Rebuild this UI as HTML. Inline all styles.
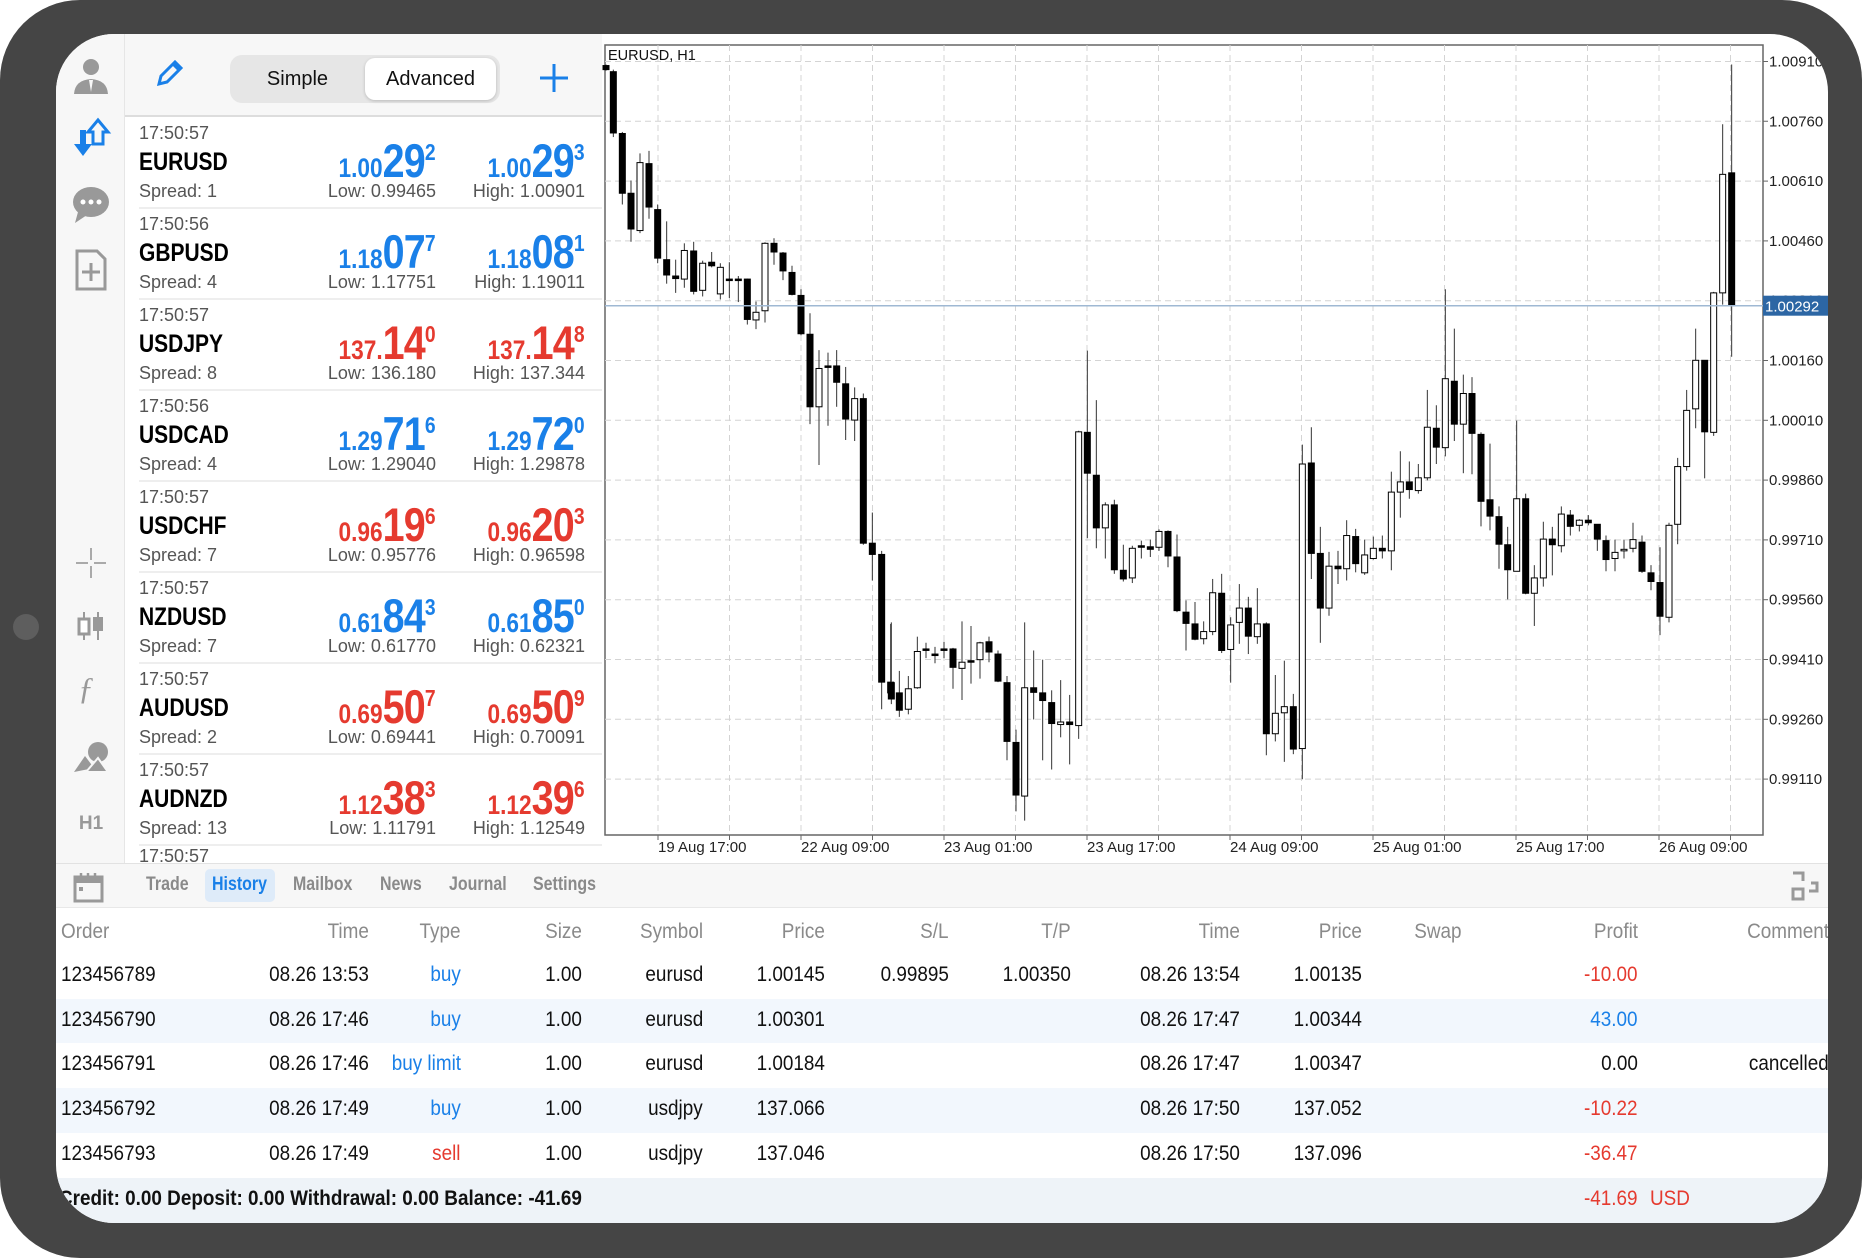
<!DOCTYPE html>
<html><head><meta charset="utf-8">
<style>
*{margin:0;padding:0;box-sizing:border-box}
body{width:1862px;height:1258px;background:#fff;position:relative;overflow:hidden;font-family:"Liberation Sans",sans-serif}
.frame{position:absolute;left:0;top:0;width:1862px;height:1258px;background:#454545;border-radius:80px}
.screen{position:absolute;left:56px;top:34px;width:1772px;height:1189px;background:#fff;border-radius:58px;overflow:hidden}
.a{position:absolute;white-space:nowrap}
.n{transform:scaleX(.84)}
.t{transform:scaleX(.9)}
.nl{transform-origin:left center}.nr{transform-origin:right center}
.blue{color:#1a80e8}.red{color:#e53a2f}
</style></head><body>
<div class="frame"></div>
<div class="a" style="left:13px;top:614px;width:26px;height:26px;border-radius:50%;background:#5e5e5e"></div>
<div class="screen" id="scr">
 <div class="a" style="left:0;top:0;width:69px;height:829px;background:#f7f7f7;border-right:1px solid #e6e6e6"></div>
 <div class="a" style="left:69px;top:0;width:477px;height:83px;background:#f7f7f7;border-bottom:2px solid #ddd"></div>
 <div class="a" style="left:174px;top:21px;width:270px;height:48px;background:#e6e6e6;border-radius:12px"></div>
 <div class="a" style="left:309px;top:24px;width:131px;height:42px;background:#fff;border-radius:10px;box-shadow:0 1px 3px rgba(0,0,0,.2)"></div>
 <div class="a" style="left:174px;top:34px;width:135px;text-align:center;font-size:20px;color:#111">Simple</div>
 <div class="a" style="left:309px;top:34px;width:131px;text-align:center;font-size:20px;color:#111">Advanced</div>
 <svg class="a" style="left:95px;top:22px" width="36" height="36" viewBox="0 0 36 36"><path d="M8 28 L10 20 L24 6 L30 12 L16 26 Z M22 8 L28 14" fill="none" stroke="#1a80e8" stroke-width="3"/></svg>
 <svg class="a" style="left:480px;top:26px" width="36" height="36"><path d="M18 4V32M4 18H32" stroke="#1a80e8" stroke-width="3"/></svg>
 <svg class="a" style="left:14px;top:20px" width="42" height="42"><circle cx="21" cy="13" r="8" fill="#999"/><path d="M4 40 Q5 26 21 25 Q37 26 38 40Z" fill="#999"/><path d="M19 26L21 38L23 26Z" fill="#f7f7f7"/></svg>
 <svg class="a" style="left:14px;top:82px" width="42" height="46"><path d="M10 14V28H4L13 40L22 28H16V14Z" fill="#1a80e8"/><path d="M28 4L38 16H33V28H23V16H18Z" fill="none" stroke="#1a80e8" stroke-width="3"/></svg>
 <svg class="a" style="left:14px;top:150px" width="42" height="42"><ellipse cx="21" cy="18" rx="18" ry="15" fill="#999"/><path d="M8 28L5 39L17 31Z" fill="#999"/><circle cx="13" cy="18" r="2.5" fill="#fff"/><circle cx="21" cy="18" r="2.5" fill="#fff"/><circle cx="29" cy="18" r="2.5" fill="#fff"/></svg>
 <svg class="a" style="left:18px;top:214px" width="34" height="44"><path d="M3 3H23L31 11V41H3Z" fill="none" stroke="#999" stroke-width="3"/><path d="M17 15V33M8 24H26" stroke="#999" stroke-width="3"/></svg>
 <svg class="a" style="left:18px;top:512px" width="34" height="34"><path d="M17 2V14M17 20V32M2 17H14M20 17H32" stroke="#aaa" stroke-width="2"/></svg>
 <svg class="a" style="left:18px;top:575px" width="34" height="34"><path d="M10 3V31M24 3V31" stroke="#999" stroke-width="2"/><rect x="5" y="10" width="10" height="15" fill="#fff" stroke="#999" stroke-width="3"/><rect x="19" y="8" width="10" height="14" fill="#999"/></svg>
 <div class="a" style="left:22px;top:636px;font-size:32px;font-style:italic;color:#999;font-family:'Liberation Serif',serif">ƒ</div>
 <svg class="a" style="left:16px;top:706px" width="38" height="34"><path d="M2 32L13 16L22 28Z" fill="#999"/><circle cx="26" cy="12" r="10" fill="#999"/><path d="M14 32L26 18L36 32Z" fill="#999" stroke="#f7f7f7" stroke-width="2"/></svg>
 <div class="a" style="left:10px;top:779px;width:50px;text-align:center;font-size:19px;font-weight:bold;color:#999">H1</div>
 <div id="watch"></div>
 <svg class="a" style="left:0;top:0" width="1772" height="829" id="chart"></svg>
 <div class="a" style="left:0;top:829px;width:1772px;height:45px;background:#f7f7f7;border-top:1px solid #e2e2e2;border-bottom:1px solid #e8e8e8"></div>
 <svg class="a" style="left:16px;top:837px" width="34" height="32"><rect x="3" y="6" width="27" height="24" fill="none" stroke="#999" stroke-width="3"/><rect x="3" y="6" width="27" height="6" fill="#999"/><path d="M9 2V8M16 2V8M23 2V8" stroke="#999" stroke-width="2.5"/><rect x="7" y="16" width="4" height="4" fill="#999"/></svg>
 <div class="a" style="left:149px;top:835px;width:70px;height:33px;background:#deebf9;border-radius:5px"></div>
 <div class="a" style="top:840px;left:0;font-size:19px;font-weight:bold;color:#8a8a8a;width:1772px">
  <span class="a n nl" style="left:90px">Trade</span><span class="a n nl" style="left:156px;color:#1a80e8">History</span><span class="a n nl" style="left:237px">Mailbox</span><span class="a n nl" style="left:324px">News</span><span class="a n nl" style="left:393px">Journal</span><span class="a n nl" style="left:477px">Settings</span></div>
 <svg class="a" style="left:1733px;top:836px" width="32" height="32"><path d="M4 3H14V11M22 13H28V21H20M4 19H14V29H4Z" fill="none" stroke="#999" stroke-width="3"/></svg>
 <div id="tbl"></div>
</div>
<script>
const W=[["17:50:57","EURUSD","1","1.00","29","2","1.00","29","3","0.99465","1.00901","blue"],
["17:50:56","GBPUSD","4","1.18","07","7","1.18","08","1","1.17751","1.19011","blue"],
["17:50:57","USDJPY","8","137.","14","0","137.","14","8","136.180","137.344","red"],
["17:50:56","USDCAD","4","1.29","71","6","1.29","72","0","1.29040","1.29878","blue"],
["17:50:57","USDCHF","7","0.96","19","6","0.96","20","3","0.95776","0.96598","red"],
["17:50:57","NZDUSD","7","0.61","84","3","0.61","85","0","0.61770","0.62321","blue"],
["17:50:57","AUDUSD","2","0.69","50","7","0.69","50","9","0.69441","0.70091","red"],
["17:50:57","AUDNZD","13","1.12","38","3","1.12","39","6","1.11791","1.12549","red"]];
let h='';
W.forEach((r,i)=>{const t=83+91*i;
h+=`<div class="a" style="left:83px;top:${t+6}px;font-size:18px;color:#555">${r[0]}</div>`;
h+=`<div class="a n nl" style="left:83px;top:${t+31}px;font-size:25px;font-weight:bold;color:#000">${r[1]}</div>`;
h+=`<div class="a" style="left:83px;top:${t+64}px;font-size:18px;color:#555">Spread: ${r[2]}</div>`;
const pr=(a,b,c,right)=>`<div class="a n nr ${r[11]}" style="right:${1772-right}px;top:${t+12}px;font-weight:bold;line-height:46px"><span style="font-size:27px">${a}</span><span style="font-size:47px;letter-spacing:-1px">${b}</span><span style="font-size:23px;vertical-align:17px">${c}</span></div>`;
h+=pr(r[3],r[4],r[5],380)+pr(r[6],r[7],r[8],529);
h+=`<div class="a" style="right:${1772-380}px;top:${t+64}px;font-size:18px;color:#555">Low: ${r[9]}</div>`;
h+=`<div class="a" style="right:${1772-529}px;top:${t+64}px;font-size:18px;color:#555">High: ${r[10]}</div>`;
h+=`<div class="a" style="left:83px;top:${t+90}px;width:463px;height:2px;background:#eee"></div>`;
});
h+=`<div class="a" style="left:83px;top:812px;font-size:18px;color:#555;height:17px;overflow:hidden">17:50:57</div>`;
document.getElementById('watch').innerHTML=h;
const ox=-56,oy=-34;
let s='';
const L=605+ox,R=1763+ox,T=45+oy,B=835+oy;
s+=`<rect x="${L}" y="${T}" width="${R-L}" height="${B-T}" fill="#fff" stroke="#666" stroke-width="1.5"/>`;
for(let k=0;k<13;k++){const y=61.5+59.8*k+oy;s+=`<line x1="${L}" x2="${R}" y1="${y}" y2="${y}" stroke="#d4d4d4" stroke-dasharray="6,4"/>`;
 s+=`<line x1="${R}" x2="${R+5}" y1="${y}" y2="${y}" stroke="#666"/>`;
 const v=(1.0091-0.0015*k).toFixed(5);s+=`<text x="${R+6}" y="${y+5}" font-size="15" fill="#222" font-family="Liberation Sans">${v}</text>`;}
for(let k=0;k<16;k++){const x=658+71.5*k+ox;if(x>R)break;s+=`<line x1="${x}" x2="${x}" y1="${T}" y2="${B}" stroke="#d4d4d4" stroke-dasharray="6,4"/>`;
 s+=`<line x1="${x}" x2="${x}" y1="${B}" y2="${B+5}" stroke="#666"/>`;}
const lab=["19 Aug 17:00","22 Aug 09:00","23 Aug 01:00","23 Aug 17:00","24 Aug 09:00","25 Aug 01:00","25 Aug 17:00","26 Aug 09:00"];
lab.forEach((l,i)=>{s+=`<text x="${658+143*i+ox}" y="${B+17}" font-size="15" fill="#222" font-family="Liberation Sans">${l}</text>`;});
s+=`<text x="${L+3}" y="${T+15}" font-size="14.5" fill="#111" font-family="Liberation Sans">EURUSD, H1</text>`;
const py=305.7+oy;
const C=[[600,[[18,48,50,58,60,1],[40,58,62,182,190,1],[67,180,183,300,322,1],[93,275,300,370,395,1],[120,222,240,373,378,0],[147,217,242,327,350,1],[173,322,332,427,437,1],[200,355,430,460,477,1],[227,430,462,467,495,1],[253,398,412,468,485,0],[281,395,413,492,498,1],[308,432,437,490,502,0],[335,415,435,442,445,1],[361,437,445,497,508,0],[388,435,468,470,505,1],[415,462,468,469,513,1],[442,467,468,547,557,1],[468,512,533,548,566,0],[495,396,398,530,553,0],[522,388,398,415,440,1],[549,415,417,452,470,1],[576,442,455,498,500,1],[603,488,500,575,578,1],[630,535,576,718,752,1],[657,607,643,718,832,0],[684,612,638,640,755,1],[710,607,638,670,718,1],[737,640,673,742,783,1],[764,680,702,744,785,0],[790,692,702,985,988,1],[817,925,985,1007,1058,1],[845,1000,1007,1257,1310,1],[872,1143,1257,1278,1290,1]]],
[890,[[4,1140,1258,1290,1300,1],[28,1235,1278,1312,1325,1],[55,1245,1270,1310,1320,0],[82,1168,1197,1268,1270,0],[108,1180,1192,1194,1210,1],[135,1188,1202,1203,1220,1],[162,1178,1192,1194,1210,1],[189,1190,1192,1228,1270,1],[216,1138,1218,1230,1292,0],[243,1147,1215,1218,1260,1],[270,1178,1180,1213,1250,0],[297,1168,1178,1198,1218,1],[324,1195,1202,1255,1257,1],[351,1245,1258,1373,1410,1],[378,1350,1375,1478,1510,1],[404,1140,1268,1480,1528,0],[431,1195,1268,1277,1330,1],[458,1213,1278,1293,1410,1],[485,1273,1297,1338,1428,1],[512,1253,1335,1340,1365,0],[539,1282,1335,1340,1418,1],[566,765,767,1342,1368,0],[592,608,768,848,975,1],[619,705,852,955,995,1],[646,905,910,955,1015,0],[673,900,910,1037,1045,1],[700,988,1038,1055,1060,1],[727,990,995,1053,1063,0],[754,980,990,993,1015,1],[781,978,992,997,1012,1],[807,958,962,993,1000,0],[834,960,962,1010,1032,1],[861,968,1012,1117,1120,1],[888,1097,1120,1142,1195,1]]],
[1180,[[45,1100,1143,1173,1175,1],[71,1138,1158,1172,1183,0],[98,1055,1082,1158,1165,0],[125,1045,1083,1195,1200,1],[152,1130,1145,1193,1258,0],[178,1065,1112,1140,1182,0],[205,1090,1112,1167,1202,1],[232,1073,1143,1168,1182,0],[259,1140,1143,1358,1400,1],[286,1243,1318,1358,1373,0],[313,1215,1305,1317,1413,0],[340,1280,1305,1388,1398,1],[367,792,830,1387,1447,0],[394,758,828,1005,1055,1],[421,953,1005,1112,1180,1],[447,1002,1030,1112,1127,0],[474,1000,1030,1035,1065,1],[500,940,970,1035,1058,0],[527,957,972,1025,1042,1],[554,978,1008,1043,1047,0],[580,972,995,1015,1017,0],[607,970,995,1000,1015,1],[634,845,885,1000,1038,0],[661,805,865,885,935,0],[688,825,865,880,898,1],[715,830,857,882,888,0],[742,685,758,857,862,0],[769,715,760,797,830,1],[796,488,663,798,815,0],[823,565,668,752,785,1],[850,655,692,752,848,0],[876,660,692,770,850,1]]],
[1470,[[33,768,772,903,952,1],[60,790,900,932,960,1],[87,913,933,987,1035,1],[113,953,988,1037,1095,1],[140,745,898,1040,1040,0],[167,888,898,1083,1085,1],[193,1028,1053,1083,1147,0],[220,943,977,1053,1070,0],[247,953,977,988,1048,1],[274,913,928,990,1003,0],[301,920,930,952,970,1],[328,938,940,950,962,0],[355,930,940,945,950,1],[382,948,948,977,1000,1],[408,970,980,1017,1040,1],[435,978,1003,1015,1040,0],[462,978,997,1000,1015,0],[489,945,978,995,1003,0],[516,970,983,1040,1043,1],[543,1028,1043,1060,1077,1],[570,993,1062,1128,1165,1],[597,945,950,1130,1140,0],[623,818,835,948,987,0],[650,685,725,835,843,0],[677,565,627,722,760,0],[704,627,627,767,858,1],[731,493,495,768,775,0],[758,165,263,495,518,0],[785,48,260,520,620,1]]]];
const Y=v=>40+v/1.9575+oy;
C.forEach(([off,arr])=>arr.forEach(c=>{const x=off+c[0]/3+ox;
 s+=`<line x1="${x}" x2="${x}" y1="${Y(c[1])}" y2="${Y(c[4])}" stroke="#333" stroke-width="1"/>`;
 const t=Y(c[2]),b=Math.max(Y(c[3]),t+1.5);
 s+=`<rect x="${x-3}" y="${t}" width="6" height="${b-t}" fill="${c[5]?'#000':'#fff'}" stroke="#000" stroke-width="1"/>`;}));
s+=`<line x1="${L}" x2="${R}" y1="${py}" y2="${py}" stroke="#9fb8d3" stroke-width="1.5"/>`;
s+=`<rect x="${R}" y="${py-10}" width="66" height="20" fill="#2c66a4"/><text x="${R+2}" y="${py+6}" font-size="15" fill="#fff" font-family="Liberation Sans">1.00292</text>`;
document.getElementById('chart').innerHTML=s;
let tb='';
const cols=[["Order",5,'l'],["Time",313,'r'],["Type",405,'r'],["Size",526,'r'],["Symbol",647,'r'],["Price",769,'r'],["S/L",893,'r'],["T/P",1015,'r'],["Time",1184,'r'],["Price",1306,'r'],["Swap",1406,'r'],["Profit",1582,'r'],["Comment",1773,'r']];
const rows=[["123456789","08.26 13:53",["buy","blue"],"1.00","eurusd","1.00145","0.99895","1.00350","08.26 13:54","1.00135","",["-10.00","red"],""],
["123456790","08.26 17:46",["buy","blue"],"1.00","eurusd","1.00301","","","08.26 17:47","1.00344","",["43.00","blue"],""],
["123456791","08.26 17:46",["buy limit","blue"],"1.00","eurusd","1.00184","","","08.26 17:47","1.00347","",["0.00",""],"cancelled"],
["123456792","08.26 17:49",["buy","blue"],"1.00","usdjpy","137.066","","","08.26 17:50","137.052","",["-10.22","red"],""],
["123456793","08.26 17:49",["sell","red"],"1.00","usdjpy","137.046","","","08.26 17:50","137.096","",["-36.47","red"],""]];
const cell=(txt,c,y,col,cls)=>c[2]=='l'?`<div class="a t nl ${cls||''}" style="left:${c[1]}px;top:${y}px;font-size:21px;color:${col}">${txt}</div>`:`<div class="a t nr ${cls||''}" style="right:${1772-c[1]}px;top:${y}px;font-size:21px;color:${col}">${txt}</div>`;
cols.forEach(c=>tb+=cell(c[0],c,886,'#8a8a8a'));
rows.forEach((r,i)=>{const top=920+44.7*i;
 if(i%2==1)tb+=`<div class="a" style="left:0;top:${top}px;width:1772px;height:44.7px;background:#f2f7fd"></div>`;
 r.forEach((v,j)=>{if(Array.isArray(v))tb+=cell(v[0],cols[j],top+9,v[1]?'':'#111',v[1]);else if(v)tb+=cell(v,cols[j],top+9,'#111');});});
tb+=`<div class="a" style="left:0;top:1144px;width:1772px;height:45px;background:#eef3f8"></div>`;
tb+=`<div class="a t nl" style="left:3px;top:1153px;font-size:21px;font-weight:bold;color:#111">Credit: 0.00 Deposit: 0.00 Withdrawal: 0.00 Balance: -41.69</div>`;
tb+=`<div class="a t nr red" style="right:${1772-1582}px;top:1153px;font-size:21px">-41.69</div><div class="a t nl red" style="left:1594px;top:1153px;font-size:21px">USD</div>`;
document.getElementById('tbl').innerHTML=tb;
</script>
</body></html>
